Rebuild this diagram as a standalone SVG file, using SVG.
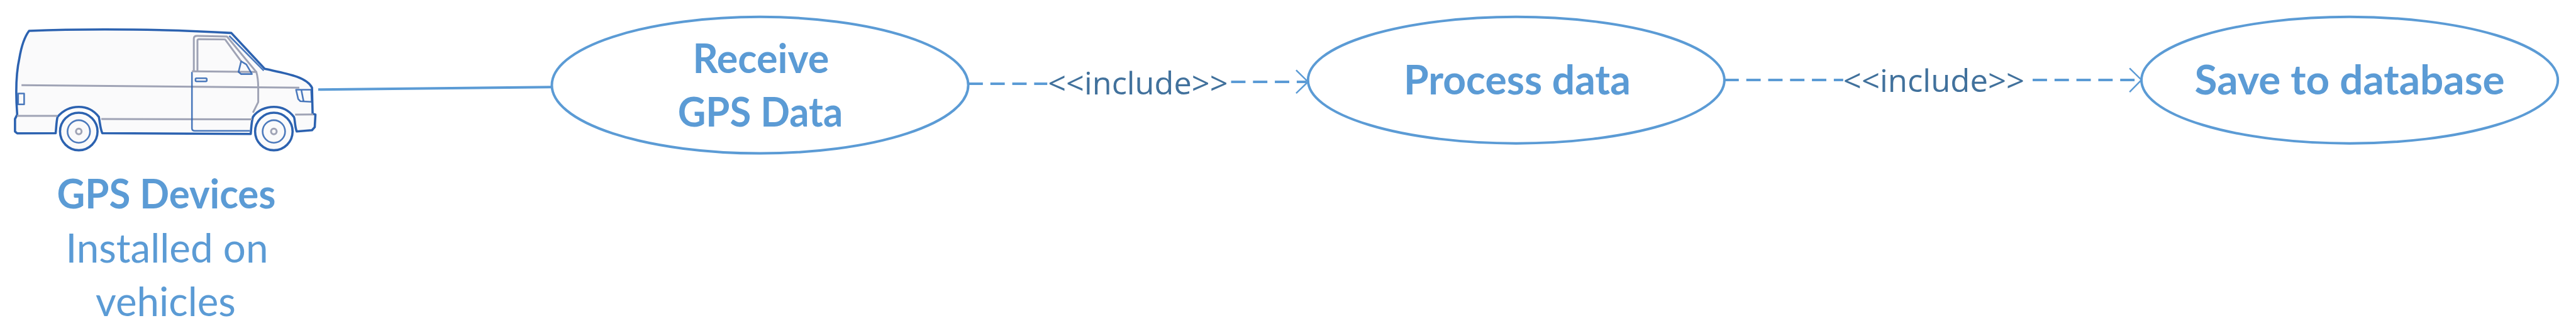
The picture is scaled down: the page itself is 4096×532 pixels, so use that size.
<svg xmlns="http://www.w3.org/2000/svg" width="4096" height="532" viewBox="0 0 4096 532">
<style>
text{font-family:Lato,"Open Sans",sans-serif;fill:#5B9BD5;text-anchor:middle}
.b{font-weight:700;font-size:65px}
.r{font-size:65px}
.inc{font-family:"Open Sans",sans-serif;font-size:50px;fill:#41719C}
.uc{fill:#fff;stroke:#5B9BD5;stroke-width:4}
.solid{fill:none;stroke:#5B9BD5;stroke-width:4}
.dash{fill:none;stroke:#5B9BD5;stroke-width:4;stroke-dasharray:23 12}
.head{fill:none;stroke:#5B9BD5;stroke-width:2.5}
.vb{fill:#FAFAFB;stroke:#2C62B0;stroke-width:3.6;stroke-linejoin:round}
.vl{fill:none;stroke:#2C62B0;stroke-width:2.6;stroke-linejoin:round;opacity:.85}
.vg{fill:none;stroke:#9FA3B5;stroke-width:3;stroke-linejoin:round}
</style>
<g transform="scale(0.99417)">
<g id="connectors">
<path class="solid" d="M509 143L882 139"/>
<path class="dash" d="M1549 133.7H1675"/>
<path class="dash" d="M1969 130.7H2090"/>
<path class="head" d="M2073 112L2092 130.7L2073 149"/>
<path class="dash" d="M2758 127.7H2948"/>
<path class="dash" d="M3251 127.7H3423"/>
<path class="head" d="M3406 109L3425 127.7L3406 147"/>
<text class="inc" x="1820" y="150.7" textLength="288" lengthAdjust="spacingAndGlyphs">&lt;&lt;include&gt;&gt;</text>
<text class="inc" x="3093" y="146.7" textLength="290" lengthAdjust="spacingAndGlyphs">&lt;&lt;include&gt;&gt;</text>
</g>
<g id="gps-devices">
<path class="vb" d="M46.5 49.3C150 45 280 47 370 52.7L423.5 110C455 117 490 122 499 140L500 181.7L504.5 183L503.4 203L499 208L474.5 210C471 200 472 190 470 186.7C462 176 450 170.7 438 170.7C425 170.7 412 176 404.6 186.7C402 195 402 205 401 214L163.6 212.7C160 205 160 195 158 186.7C150 176 138 170.7 126 170.7C113 170.7 101 176 92 186.7C90 195 90 205 89 212.7L27.5 213L24 210V190L27.5 183C25 150 25 120 31 93C34 75 40 58 46.5 49.3Z"/>
<path class="vg" d="M34.4 136L478.7 140"/>
<path class="vg" d="M27.5 185H92M162 190L403 190.7M472 183L501 182.7"/>
<path class="vl" d="M307 115V205Q307 209 311.6 209H399.5"/>
<path class="vg" d="M307 114L410 115Q413 125 413 140V163L404.6 180"/>
<path class="vg" d="M310 113.3V61.7Q310 57.3 315 57.3L363 58.3L410 115"/>
<path class="vg" d="M315.8 113V65Q315.8 62.7 318.5 62.7L360 63L385.7 98"/>
<path class="vl" d="M366.7 57.3L421.8 112.7"/>
<path class="vl" d="M385.7 98L381.5 115L385.7 118.3H403L394 103Z"/>
<rect class="vl" x="312.7" y="125" width="18" height="5" rx="1.5"/>
<rect class="vl" x="29" y="149.3" width="9.6" height="17.4"/>
<path class="vl" d="M473.5 143.3H497.6L498.6 162.7L480.4 161.7L477 158.3Z"/>
<path class="vl" d="M482 144L485.5 161.7"/>
<circle class="vb" cx="126" cy="210" r="30"/>
<circle class="vl" cx="126" cy="210" r="18"/>
<circle class="vg" cx="126" cy="210" r="4.5"/>
<circle class="vb" cx="438" cy="210" r="30"/>
<circle class="vl" cx="438" cy="210" r="18"/>
<circle class="vg" cx="438" cy="210" r="4.5"/>
<text class="b" x="266" y="333" textLength="350" lengthAdjust="spacingAndGlyphs">GPS Devices</text>
<text class="r" x="267" y="419" textLength="324" lengthAdjust="spacingAndGlyphs">Installed on</text>
<text class="r" x="265" y="505" textLength="224" lengthAdjust="spacingAndGlyphs">vehicles</text>
</g>
<g id="receive-gps-data">
<ellipse class="uc" cx="1215.6" cy="136" rx="333" ry="109"/>
<text class="b" x="1217" y="117" textLength="218" lengthAdjust="spacingAndGlyphs">Receive</text>
<text class="b" x="1216" y="201.7" textLength="264" lengthAdjust="spacingAndGlyphs">GPS Data</text>
</g>
<g id="process-data">
<ellipse class="uc" cx="2425" cy="128" rx="333" ry="101"/>
<text class="b" x="2426.5" y="150.7" textLength="363" lengthAdjust="spacingAndGlyphs">Process data</text>
</g>
<g id="save-to-database">
<ellipse class="uc" cx="3758" cy="128" rx="333" ry="101"/>
<text class="b" x="3758" y="151" textLength="496" lengthAdjust="spacingAndGlyphs">Save to database</text>
</g>
</g>
</svg>
